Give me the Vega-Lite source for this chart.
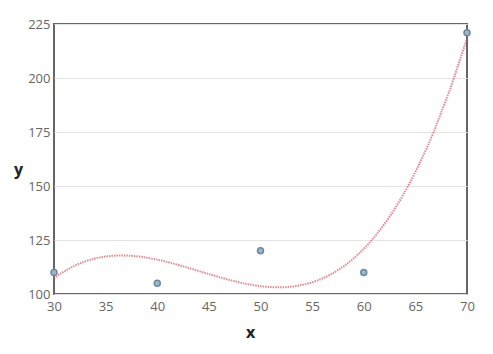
{
  "$schema": "https://vega.github.io/schema/vega-lite/v6.json",
  "autosize": "none",
  "width": 413,
  "height": 270,
  "padding": {"left": 54, "top": 24, "right": 26, "bottom": 60},
  "background": "white",
  "config": {
    "view": {"stroke": "#666666", "strokeWidth": 2},
    "axis": {
      "labelFont": "Open Sans",
      "labelFontSize": 13,
      "labelColor": "#666666",
      "titleFont": "Open Sans",
      "titleFontSize": 16,
      "titleFontWeight": "bold",
      "titleColor": "#222222",
      "domain": false,
      "ticks": false,
      "labelFlush": false,
      "labelOverlap": false
    }
  },
  "data": {
    "values": [
      {"x": 30, "y": 110},
      {"x": 40, "y": 105},
      {"x": 50, "y": 120},
      {"x": 60, "y": 110},
      {"x": 70, "y": 221}
    ]
  },
  "layer": [
    {
      "transform": [
        {"regression": "y", "on": "x", "method": "poly", "order": 3}
      ],
      "mark": {
        "type": "line",
        "color": "#e5535f",
        "strokeWidth": 2,
        "strokeDash": [1.5, 1],
        "opacity": 0.7
      },
      "encoding": {
        "x": {"field": "x", "type": "quantitative"},
        "y": {"field": "y", "type": "quantitative"}
      }
    },
    {
      "mark": {
        "type": "point",
        "filled": true,
        "size": 36,
        "fill": "#9ab8cc",
        "stroke": "#6b8aa0",
        "strokeWidth": 1.5,
        "opacity": 1
      },
      "encoding": {
        "x": {
          "field": "x",
          "type": "quantitative",
          "scale": {"domain": [30, 70], "nice": false, "zero": false},
          "axis": {
            "values": [30, 35, 40, 45, 50, 55, 60, 65, 70],
            "grid": false,
            "labelPadding": 6,
            "title": "x",
            "titleX": 196,
            "titleY": 38,
            "titleAlign": "center",
            "titleBaseline": "middle"
          }
        },
        "y": {
          "field": "y",
          "type": "quantitative",
          "scale": {"domain": [100, 225], "nice": false, "zero": false},
          "axis": {
            "values": [100, 125, 150, 175, 200, 225],
            "grid": true,
            "gridColor": "#e4e4e4",
            "gridWidth": 1,
            "labelPadding": 4,
            "title": "y",
            "titleAngle": 0,
            "titleX": -36,
            "titleY": 145,
            "titleAlign": "center",
            "titleBaseline": "middle"
          }
        }
      }
    }
  ]
}
